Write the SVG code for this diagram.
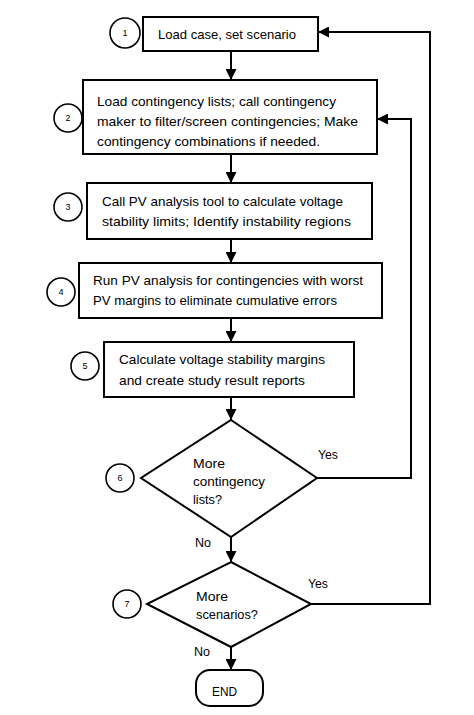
<svg xmlns="http://www.w3.org/2000/svg" width="474" height="715" viewBox="0 0 474 715">
<defs>
<marker id="ah" markerWidth="11" markerHeight="11" viewBox="0 0 11 11" refX="11" refY="5.5" orient="auto" markerUnits="userSpaceOnUse">
<path d="M0,0 L11,5.5 L0,11 Z" fill="#000"/>
</marker>
<style>
.box{fill:#fff;stroke:#000;stroke-width:2}
.num{fill:#fff;stroke:#000;stroke-width:1.6}
.t{font-family:"Liberation Sans",Arial,sans-serif;font-size:13.5px;fill:#000}
.n{font-family:"Liberation Sans",Arial,sans-serif;font-size:9px;fill:#000;text-anchor:middle}
.c{fill:none;stroke:#000;stroke-width:2}
</style>
</defs>
<rect width="474" height="715" fill="#fff"/>
<g id="connectors">
<line class="c" x1="231" y1="51" x2="231" y2="80" marker-end="url(#ah)"/>
<line class="c" x1="231" y1="154" x2="231" y2="183" marker-end="url(#ah)"/>
<line class="c" x1="231" y1="239" x2="231" y2="263" marker-end="url(#ah)"/>
<line class="c" x1="231" y1="318" x2="231" y2="342" marker-end="url(#ah)"/>
<line class="c" x1="231" y1="397" x2="231" y2="420" marker-end="url(#ah)"/>
<line class="c" x1="231" y1="537" x2="231" y2="562" marker-end="url(#ah)"/>
<line class="c" x1="231" y1="647" x2="231" y2="670" marker-end="url(#ah)"/>
<polyline class="c" points="317,478 411,478 411,119 377,119" marker-end="url(#ah)"/>
<polyline class="c" points="311,604 430,604 430,32 318,32" marker-end="url(#ah)"/>
<text class="t" x="318" y="459" textLength="20" lengthAdjust="spacingAndGlyphs">Yes</text>
<text class="t" x="195" y="547" textLength="16" lengthAdjust="spacingAndGlyphs">No</text>
<text class="t" x="308" y="588" textLength="20" lengthAdjust="spacingAndGlyphs">Yes</text>
<text class="t" x="194" y="656" textLength="16" lengthAdjust="spacingAndGlyphs">No</text>
</g>
<g id="node1">
<rect class="box" x="143" y="17" width="175" height="34"/>
<text class="t" x="158" y="39" textLength="138" lengthAdjust="spacingAndGlyphs">Load case, set scenario</text>
</g>
<g id="node2">
<rect class="box" x="83" y="80" width="294" height="74"/>
<text class="t" x="97" y="106" textLength="239" lengthAdjust="spacingAndGlyphs">Load contingency lists; call contingency</text>
<text class="t" x="97" y="126" textLength="261" lengthAdjust="spacingAndGlyphs">maker to filter/screen contingencies; Make</text>
<text class="t" x="97" y="146" textLength="223" lengthAdjust="spacingAndGlyphs">contingency combinations if needed.</text>
</g>
<g id="node3">
<rect class="box" x="87" y="183" width="285" height="56"/>
<text class="t" x="102" y="206" textLength="241" lengthAdjust="spacingAndGlyphs">Call PV analysis tool to calculate voltage</text>
<text class="t" x="102" y="226" textLength="249" lengthAdjust="spacingAndGlyphs">stability limits; Identify instability regions</text>
</g>
<g id="node4">
<rect class="box" x="79" y="263" width="303" height="55"/>
<text class="t" x="93" y="285" textLength="270" lengthAdjust="spacingAndGlyphs">Run PV analysis for contingencies with worst</text>
<text class="t" x="93" y="305" textLength="244" lengthAdjust="spacingAndGlyphs">PV margins to eliminate cumulative errors</text>
</g>
<g id="node5">
<rect class="box" x="104" y="342" width="250" height="55"/>
<text class="t" x="119" y="364" textLength="206" lengthAdjust="spacingAndGlyphs">Calculate voltage stability margins</text>
<text class="t" x="119" y="385" textLength="186" lengthAdjust="spacingAndGlyphs">and create study result reports</text>
</g>
<g id="node6">
<polygon class="box" points="231,420 317,478 231,537 141,478"/>
<text class="t" x="193" y="468" textLength="32" lengthAdjust="spacingAndGlyphs">More</text>
<text class="t" x="193" y="486" textLength="72" lengthAdjust="spacingAndGlyphs">contingency</text>
<text class="t" x="193" y="504" textLength="29" lengthAdjust="spacingAndGlyphs">lists?</text>
</g>
<g id="node7">
<polygon class="box" points="231,562 311,604 231,647 147,604"/>
<text class="t" x="196" y="601" textLength="32" lengthAdjust="spacingAndGlyphs">More</text>
<text class="t" x="196" y="619" textLength="62" lengthAdjust="spacingAndGlyphs">scenarios?</text>
</g>
<g id="end">
<rect class="box" x="196" y="670" width="67" height="36" rx="14" ry="14"/>
<text class="t" x="212" y="696" textLength="25" lengthAdjust="spacingAndGlyphs">END</text>
</g>
<g id="c1"><circle class="num" cx="125" cy="33" r="15"/><text class="n" x="125" y="36">1</text></g>
<g id="c2"><circle class="num" cx="68" cy="118" r="14"/><text class="n" x="68" y="121">2</text></g>
<g id="c3"><circle class="num" cx="68" cy="207" r="14"/><text class="n" x="68" y="210">3</text></g>
<g id="c4"><circle class="num" cx="61" cy="292" r="14"/><text class="n" x="61" y="295">4</text></g>
<g id="c5"><circle class="num" cx="85" cy="366" r="14"/><text class="n" x="85" y="369">5</text></g>
<g id="c6"><circle class="num" cx="120" cy="478" r="14"/><text class="n" x="120" y="481">6</text></g>
<g id="c7"><circle class="num" cx="127" cy="604" r="14"/><text class="n" x="127" y="607">7</text></g>
</svg>
